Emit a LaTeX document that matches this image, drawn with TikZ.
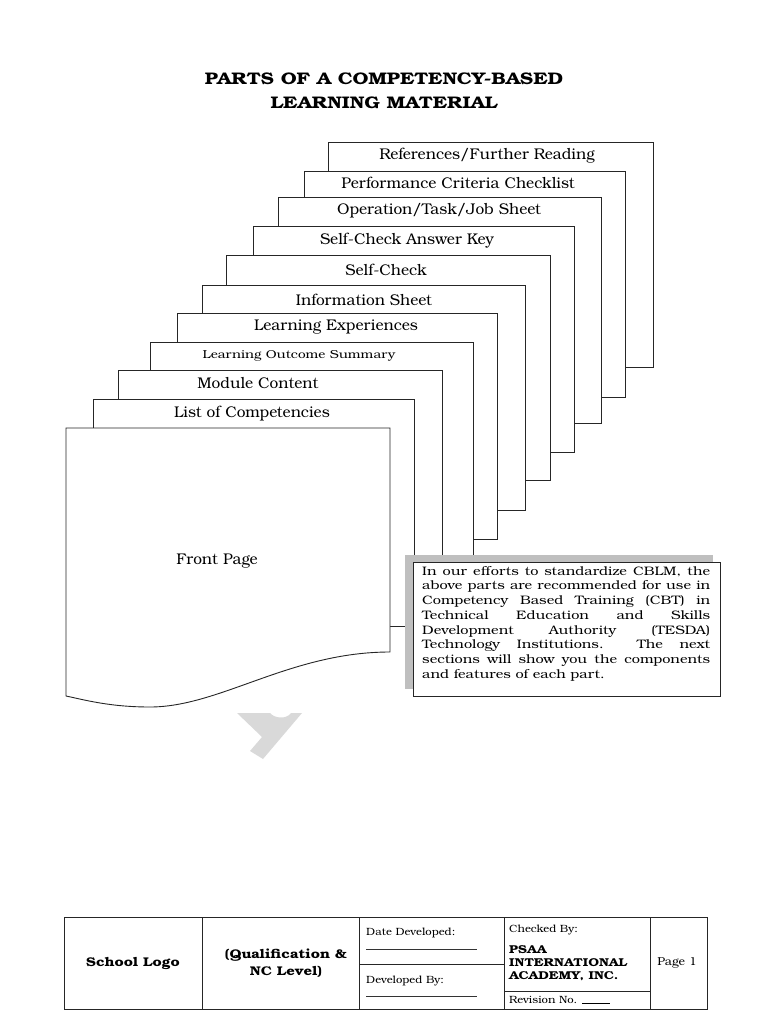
\documentclass[tikz,border=0pt]{standalone}
\usepackage{fontspec}
\setmainfont{TeX Gyre Bonum}
\newfontfamily\widefont[FakeStretch=1.18]{TeX Gyre Bonum}
\newfontfamily\midfont[FakeStretch=1.08]{TeX Gyre Bonum}
\begin{document}
\begin{tikzpicture}[x=1pt,y=-1pt,
  page/.style={draw=black!85, fill=white, line width=0.9pt},
  plabel/.style={font=\fontsize{15.5}{17}\selectfont, inner sep=0pt, anchor=center},
  tline/.style={draw=black!85, line width=0.9pt},
  small/.style={font=\midfont\fontsize{10.5}{12}\selectfont, inner sep=0pt},
  bsmall/.style={font=\widefont\bfseries\fontsize{11}{13}\selectfont, inner sep=0pt}
]
\useasboundingbox (0,0) rectangle (768,1024);
% title
\node[font=\widefont\bfseries\fontsize{16.8}{24}\selectfont, align=center, inner sep=0pt] (title) at (384,91)
  {PARTS OF A COMPETENCY-BASED\\LEARNING MATERIAL};
% stacked pages, back to front
\draw[page] (328,142) rectangle (653,367);
\node[plabel] (t1) at (487,156) {References/Further Reading};
\draw[page] (304,171) rectangle (625,397);
\node[plabel] (t2) at (458,183) {Performance Criteria Checklist};
\draw[page] (278,197) rectangle (601,423);
\node[plabel] (t3) at (439,211) {Operation/Task/Job Sheet};
\draw[page] (253,226) rectangle (574,452);
\node[plabel] (t4) at (407,241) {Self-Check Answer Key};
\draw[page] (226,255) rectangle (550,480);
\node[plabel] (t5) at (386,270) {Self-Check};
\draw[page] (202,285) rectangle (525,510);
\node[plabel] (t6) at (364,300) {Information Sheet};
\draw[page] (177,313) rectangle (497,539);
\node[plabel] (t7) at (336,327) {Learning Experiences};
\draw[page] (150,342) rectangle (473,567);
\node[plabel, font=\widefont\fontsize{11.5}{13}\selectfont] (t8) at (299,356) {Learning Outcome Summary};
\draw[page] (118,370) rectangle (442,597);
\node[plabel] (t9) at (258,383) {Module Content};
\draw[page] (93,399) rectangle (414,626);
\node[plabel] (t10) at (252,414) {List of Competencies};
% front page with wavy bottom
\draw[page] (66,428) -- (390,428) -- (390,652)
  .. controls (290,652) and (220,707) .. (150,707)
  .. controls (110,707) and (85,700) .. (66,696) -- cycle;
\node[plabel] (front) at (217,561) {Front Page};
% watermark
\fill[black!15] (237,713) -- (270,713) .. controls (274,718) and (286,720) .. (291,713)
  -- (302,713) -- (263,759) -- (250,751) -- (262,737) -- cycle;
% callout
\fill[black!25] (405,555) rectangle (713,689);
\draw[fill=white, draw=black!85, line width=0.9pt] (413,562) rectangle (720,696);
\node[anchor=north west, inner sep=0pt, text width=288pt, align=justify,
  font=\widefont\fontsize{12.3}{14.7}\selectfont] (callout) at (422,566)
  {In our efforts to standardize CBLM, the\linebreak
   above parts are recommended for use in\linebreak
   Competency Based Training (CBT) in\linebreak
   Technical Education and Skills\linebreak
   Development Authority (TESDA)\linebreak
   Technology Institutions.\ \ The next\linebreak
   sections will show you the components\linebreak
   and features of each part.};
% footer table
\draw[tline] (64,917) rectangle (707,1009);
\draw[tline] (202,917) -- (202,1009);
\draw[tline] (359,917) -- (359,1009);
\draw[tline] (504,917) -- (504,1009);
\draw[tline] (650,917) -- (650,1009);
\draw[tline] (359,964) -- (504,964);
\draw[tline] (504,991) -- (650,991);
\node[bsmall, font=\widefont\bfseries\fontsize{12.6}{13}\selectfont] (logo) at (133,963) {School Logo};
\node[bsmall, font=\widefont\bfseries\fontsize{12.6}{17}\selectfont, align=center] (qual) at (286,963) {(Qualification \&\\NC Level)};
\node[small, anchor=west] (dd) at (366,933) {Date Developed:};
\draw[black!80, line width=0.6pt] (366,949) -- (477,949);
\node[small, anchor=west] (db) at (366,981) {Developed By:};
\draw[black!80, line width=0.6pt] (366,996) -- (477,996);
\node[small, anchor=west] (cb) at (509,930) {Checked By:};
\node[bsmall, anchor=west, align=left, font=\widefont\bfseries\fontsize{11.4}{13}\selectfont] (psaa) at (509,963) {PSAA\\INTERNATIONAL\\ACADEMY, INC.};
\node[small, anchor=west] (rev) at (509,1000) {Revision No. \rule[-0.5pt]{28pt}{0.6pt}};
\node[small, font=\midfont\fontsize{11.5}{12}\selectfont] (pg) at (677,963) {Page 1};
\end{tikzpicture}
\end{document}
